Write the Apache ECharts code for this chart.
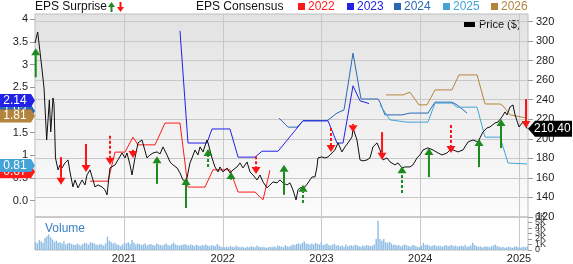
<!DOCTYPE html>
<html><head><meta charset="utf-8">
<script src="https://cdn.jsdelivr.net/npm/echarts@6/dist/echarts.min.js"></script>
<style>html,body{margin:0;padding:0;background:#fff}#c{width:573px;height:264px}</style>
</head><body><div id="c"></div>
<script>
const FONT = '"Liberation Sans", Arial, Helvetica, sans-serif';

// x axis: decimal years
const xMin = 2020.0987, xMax = 2025.0911;
const yearTicks = [2021, 2022, 2023, 2024, 2025];
const epsTicks = [0, 0.5, 1, 1.5, 2, 2.5, 3, 3.5, 4];
const priceTicks = [120, 140, 160, 180, 200, 220, 240, 260, 280, 300, 320];
const volTicks = [0, 1, 2, 3, 4, 5, 6];

// Price ($) [year, price]
const price = [[2020.099,298.0],[2020.126,309.3],[2020.142,310.3],[2020.167,273.5],[2020.190,252.0],[2020.217,198.8],[2020.244,239.7],[2020.258,207.0],[2020.281,241.8],[2020.291,235.6],[2020.306,180.4],[2020.332,168.2],[2020.352,173.3],[2020.372,170.2],[2020.402,175.3],[2020.433,178.4],[2020.453,166.1],[2020.483,150.8],[2020.504,157.9],[2020.534,149.8],[2020.575,157.9],[2020.605,152.8],[2020.625,163.0],[2020.656,168.2],[2020.686,157.9],[2020.706,150.8],[2020.737,152.8],[2020.777,150.8],[2020.808,147.7],[2020.828,142.6],[2020.858,170.2],[2020.909,173.3],[2020.939,178.4],[2020.980,185.5],[2021.010,180.4],[2021.030,185.5],[2021.061,173.3],[2021.081,163.0],[2021.111,180.4],[2021.142,195.8],[2021.182,198.8],[2021.202,196.8],[2021.233,180.4],[2021.263,183.5],[2021.294,185.5],[2021.334,186.6],[2021.365,184.5],[2021.395,191.7],[2021.435,183.5],[2021.466,176.3],[2021.496,173.3],[2021.537,170.2],[2021.567,165.1],[2021.597,157.9],[2021.618,156.9],[2021.638,160.0],[2021.668,175.3],[2021.689,180.4],[2021.719,188.6],[2021.749,183.5],[2021.770,191.7],[2021.800,186.6],[2021.840,198.8],[2021.851,195.8],[2021.891,180.4],[2021.921,171.2],[2021.952,166.1],[2021.972,171.2],[2022.003,166.1],[2022.043,170.2],[2022.073,165.1],[2022.104,168.2],[2022.144,171.2],[2022.175,175.3],[2022.205,170.2],[2022.246,176.3],[2022.276,166.1],[2022.306,163.0],[2022.347,157.9],[2022.377,163.0],[2022.408,155.9],[2022.448,149.8],[2022.478,152.8],[2022.509,155.9],[2022.549,154.9],[2022.580,157.9],[2022.610,154.9],[2022.651,152.8],[2022.681,154.9],[2022.711,147.7],[2022.742,137.5],[2022.762,147.7],[2022.782,149.8],[2022.833,150.8],[2022.863,154.9],[2022.904,161.0],[2022.934,161.0],[2022.954,171.2],[2022.964,180.4],[2023.005,181.5],[2023.035,180.4],[2023.066,181.5],[2023.106,185.5],[2023.136,188.6],[2023.167,195.8],[2023.207,186.6],[2023.238,191.7],[2023.268,195.8],[2023.309,201.9],[2023.319,211.1],[2023.359,198.8],[2023.390,178.4],[2023.420,177.4],[2023.461,178.4],[2023.491,180.4],[2023.521,191.7],[2023.562,195.8],[2023.592,188.6],[2023.623,178.4],[2023.663,180.4],[2023.694,176.3],[2023.744,173.3],[2023.775,175.3],[2023.815,170.2],[2023.845,171.2],[2023.896,171.2],[2023.926,173.3],[2023.967,180.4],[2023.997,183.5],[2024.028,188.6],[2024.078,190.7],[2024.129,188.6],[2024.180,185.5],[2024.220,183.5],[2024.271,185.5],[2024.301,188.6],[2024.332,188.6],[2024.382,186.6],[2024.433,188.6],[2024.484,196.8],[2024.534,198.8],[2024.585,196.8],[2024.635,207.0],[2024.676,211.1],[2024.706,212.1],[2024.757,216.2],[2024.787,217.2],[2024.828,222.4],[2024.858,227.5],[2024.879,224.4],[2024.909,232.6],[2024.939,234.6],[2024.960,224.4],[2024.980,222.4],[2025.000,212.1],[2025.031,216.2],[2025.061,217.2],[2025.081,210.4]];
const lastPrice = 210.40;

// EPS consensus [year, eps]
const cons2022 = [[2020.656,0.43],[2020.838,0.43],[2020.909,1.07],[2021.010,1.07],[2021.091,1.40],[2021.142,1.23],[2021.314,1.23],[2021.415,1.71],[2021.567,1.71],[2021.648,0.30],[2021.820,0.30],[2021.901,0.68],[2022.073,0.68],[2022.155,0.19],[2022.327,0.19],[2022.408,0.02],[2022.478,0.67]];
const cons2023 = [[2021.567,3.74],[2021.648,1.27],[2021.840,1.27],[2021.891,1.58],[2022.073,1.58],[2022.155,0.96],[2022.327,0.96],[2022.398,1.09],[2022.560,1.09],[2022.813,1.76],[2023.066,1.76],[2023.157,1.27],[2023.218,1.27],[2023.319,2.53],[2023.390,2.20],[2023.481,2.14]];
const cons2024 = [[2022.570,1.82],[2022.661,1.62],[2022.752,1.62],[2022.813,1.76],[2023.056,1.76],[2023.157,1.93],[2023.228,2.00],[2023.319,3.25],[2023.400,2.24],[2023.572,2.24],[2023.592,2.17],[2023.643,1.89],[2023.815,1.89],[2023.896,1.93],[2024.078,1.93],[2024.149,2.17],[2024.321,2.17],[2024.372,2.11],[2024.474,1.93]];
const cons2025 = [[2023.592,2.11],[2023.694,1.78],[2023.866,1.73],[2024.078,1.73],[2024.149,2.15],[2024.321,2.15],[2024.372,2.06],[2024.575,2.06],[2024.656,1.40],[2024.808,1.40],[2024.889,0.83],[2025.081,0.81]];
const cons2026 = [[2023.653,2.33],[2023.825,2.33],[2023.896,2.39],[2023.987,2.11],[2024.068,2.11],[2024.149,2.44],[2024.321,2.44],[2024.392,2.77],[2024.575,2.77],[2024.656,2.13],[2024.808,2.13],[2024.838,2.09],[2024.909,1.89],[2025.081,1.82]];
const consLast = {'2022': '0.67', '2023': '2.14', '2024': '1.93', '2025': '0.81', '2026': '1.81'};

// EPS surprise arrows [year, consensus, actual, dashed(1/0)]
const surprises = [[2020.106,2.72,3.36,0],[2020.362,0.96,0.35,0],[2020.615,1.25,0.63,0],[2020.858,1.43,0.79,1],[2021.091,1.12,0.94,0],[2021.334,0.37,0.98,0],[2021.628,-0.16,0.50,0],[2021.851,0.74,1.14,1],[2022.084,0.46,0.63,1],[2022.337,0.98,0.59,1],[2022.620,0.13,0.79,0],[2022.813,-0.05,0.35,1],[2023.096,1.60,1.07,1],[2023.319,1.69,1.51,1],[2023.613,1.51,0.90,0],[2023.815,0.17,0.76,1],[2024.088,0.52,1.16,0],[2024.311,1.67,1.05,1],[2024.595,0.74,1.36,0],[2024.818,1.16,1.80,0],[2025.071,2.24,1.60,0]];

// Weekly volume (K), first week starting at volStart
const volStart = 2020.104;
const volume = [
1.4,1.2,1.8,1.6,1.3,2.2,2.5,2.8,2.3,1.9,
1.5,1.7,1.3,1.4,1.2,1.6,1.0,1.2,1.3,1.1,
1.0,0.9,1.2,1.0,0.8,1.1,1.3,1.2,1.0,1.4,
1.3,1.2,1.0,0.9,1.1,1.0,0.8,1.2,2.4,1.7,
1.4,1.2,1.3,1.0,0.9,0.7,1.0,1.3,1.2,1.4,
1.1,1.8,1.3,1.0,1.2,1.1,0.9,1.0,1.2,0.8,
1.0,1.1,0.9,0.8,1.2,1.0,0.9,0.8,1.0,1.2,
0.9,0.8,1.1,1.3,1.0,0.9,0.8,0.9,1.0,1.1,
0.9,0.8,1.0,0.9,0.7,1.0,0.8,0.7,0.9,0.8,
1.0,0.8,0.7,0.9,0.8,0.7,1.1,0.8,0.6,0.5,
0.5,0.6,0.5,0.7,0.6,0.5,0.8,0.6,0.5,0.6,
0.5,0.4,0.6,0.5,0.7,0.6,0.5,0.8,0.6,0.5,
0.6,0.5,0.4,0.5,0.6,0.5,0.7,0.5,0.8,0.7,
0.6,0.5,0.9,0.7,0.6,0.8,1.0,0.9,1.1,1.2,
1.0,1.3,1.6,1.2,1.1,1.0,1.2,1.0,1.3,1.1,
1.0,1.4,0.9,1.0,1.2,0.9,0.8,1.0,1.1,0.8,
0.9,0.7,0.8,0.6,1.0,0.7,0.8,0.9,0.7,1.0,
0.8,0.7,0.6,0.8,0.7,0.9,0.8,0.7,0.8,1.0,
2.0,5.3,2.0,1.7,2.0,1.4,1.3,1.5,1.2,0.9,
1.0,0.8,0.9,0.7,0.8,1.0,0.9,0.7,0.6,0.8,
0.9,0.7,0.6,0.5,0.8,1.3,0.9,1.0,0.8,0.7,
0.8,0.9,0.7,0.8,0.7,0.6,0.8,0.9,0.7,0.8,
0.9,0.7,0.8,0.6,0.7,0.8,0.7,0.9,0.6,0.7,
0.8,1.3,0.9,0.7,0.6,0.7,0.5,0.6,0.7,0.6,
0.5,0.7,0.8,1.0,0.7,0.6,0.5,0.6,0.4,0.5,
0.6,0.5,0.4,0.6,0.7,0.5,0.4,0.5,0.6,0.5,0.7];
const WEEK = 7 / 365.25;
const volData = volume.map((v, i) => [volStart + i * WEEK, v]);

const COLORS = {'2022': '#ff1a1a', '2023': '#2222e6', '2024': '#2b68b3', '2025': '#44a4d8', '2026': '#b5843c'};
const GREEN = '#1c8a1c', RED = '#ff1414';

const chart = echarts.init(document.getElementById('c'), null, {renderer: 'canvas', width: 573, height: 264});

function consSeries(name, data) {
  return {type: 'line', name: name, xAxisIndex: 0, yAxisIndex: 0, data: data, symbol: 'none', z: 3,
    lineStyle: {color: COLORS[name], width: 1}, itemStyle: {color: COLORS[name]}};
}

const option = {
  animation: false,
  backgroundColor: '#fff',
  textStyle: {fontFamily: FONT},
  grid: [
    {left: 35, right: 45, top: 14, height: 203, show: true,
     backgroundColor: {type: 'linear', x: 0, y: 0, x2: 0, y2: 1, colorStops: [{offset: 0, color: '#e2e2e2'}, {offset: 1, color: '#fcfcfc'}]},
     borderColor: '#bdbdbd', borderWidth: 1},
    {left: 35, right: 45, top: 217, height: 37, show: true, backgroundColor: '#fff', borderColor: '#bdbdbd', borderWidth: 1}
  ],
  xAxis: [
    {type: 'value', gridIndex: 0, min: xMin, max: xMax, axisLine: {show: false},
     axisTick: {show: false, customValues: yearTicks}, axisLabel: {show: false, customValues: yearTicks},
     splitLine: {show: true, lineStyle: {color: '#c8c8c8', width: 1}}},
    {type: 'value', gridIndex: 1, min: xMin, max: xMax, axisLine: {show: false},
     axisTick: {show: false, customValues: yearTicks},
     axisLabel: {customValues: yearTicks, formatter: v => String(Math.round(v)), color: '#222', fontSize: 11, fontFamily: FONT, margin: 3},
     splitLine: {show: true, lineStyle: {color: '#c8c8c8', width: 1}}}
  ],
  yAxis: [
    {type: 'value', gridIndex: 0, position: 'left', min: -0.359, max: 4.112,
     axisLine: {show: false}, splitLine: {show: false},
     axisTick: {show: true, customValues: epsTicks, length: 5, lineStyle: {color: '#999'}},
     axisLabel: {customValues: epsTicks, formatter: v => v === 0 ? '0.0' : String(v), color: '#222', fontSize: 11, fontFamily: FONT, margin: 7}},
    {type: 'value', gridIndex: 0, position: 'right', min: 120, max: 327.67,
     axisLine: {show: false},
     axisTick: {show: true, customValues: priceTicks, length: 5, lineStyle: {color: '#999'}},
     axisLabel: {customValues: priceTicks, color: '#222', fontSize: 11, fontFamily: FONT, margin: 8, hideOverlap: false},
     splitLine: {show: true, lineStyle: {color: '#c8c8c8', width: 1}}},
    {type: 'value', gridIndex: 1, position: 'right', min: 0, max: 6,
     axisLine: {show: false}, splitLine: {show: false},
     axisTick: {show: true, customValues: volTicks, length: 4, lineStyle: {color: '#999'}},
     axisLabel: {show: false, customValues: volTicks}}
  ],
  series: [
    {type: 'bar', name: 'Volume', xAxisIndex: 1, yAxisIndex: 2, data: volData, barWidth: 1.4,
     itemStyle: {color: '#8dbbe4'}, z: 2},
    consSeries('2022', cons2022),
    consSeries('2024', cons2024),
    consSeries('2023', cons2023),
    consSeries('2025', cons2025),
    consSeries('2026', cons2026),
    {type: 'line', name: 'Price ($)', xAxisIndex: 0, yAxisIndex: 1, data: price, symbol: 'none', z: 4,
     lineStyle: {color: '#111', width: 1}},
    {type: 'custom', name: 'EPS Surprise', xAxisIndex: 0, yAxisIndex: 0, data: surprises, z: 6,
     encode: {x: 0, y: [1, 2]},
     renderItem: function (params, api) {
       const x = api.value(0), a = api.value(1), b = api.value(2), dashed = api.value(3);
       const p0 = api.coord([x, a]), p1 = api.coord([x, b]);
       const up = b > a;
       const color = up ? GREEN : RED;
       const dir = up ? -1 : 1;
       const headH = 7, headW = 4.5;
       const baseY = p1[1] - dir * headH;
       return {type: 'group', children: [
         {type: 'line', shape: {x1: p0[0], y1: p0[1], x2: p0[0], y2: baseY},
          style: {stroke: color, lineWidth: 2, lineDash: dashed ? [3, 2] : null}},
         {type: 'polygon', shape: {points: [[p1[0], p1[1]], [p1[0] - headW, baseY], [p1[0] + headW, baseY]]},
          style: {fill: color}}
       ]};
     }}
  ],
  graphic: []
};
chart.setOption(option);

// Legend and tags
const g = [];
g.push({type: 'text', x: 35, y: 7, style: {text: 'EPS Surprise', fill: '#111', font: '12px ' + FONT, textVerticalAlign: 'middle'}});
g.push({type: 'line', shape: {x1: 111.5, y1: 7, x2: 111.5, y2: 12}, style: {stroke: GREEN, lineWidth: 2}});
g.push({type: 'polygon', shape: {points: [[111.5, 2], [108, 7], [115, 7]]}, style: {fill: GREEN}});
g.push({type: 'line', shape: {x1: 120.5, y1: 2, x2: 120.5, y2: 7}, style: {stroke: RED, lineWidth: 2}});
g.push({type: 'polygon', shape: {points: [[120.5, 12], [117, 7], [124, 7]]}, style: {fill: RED}});
g.push({type: 'text', x: 196, y: 7, style: {text: 'EPS Consensus', fill: '#111', font: '12px ' + FONT, textVerticalAlign: 'middle'}});
const legYears = ['2022', '2023', '2024', '2025', '2026'];
const legX = [298, 347, 394, 443, 491];
legYears.forEach((yr, i) => {
  g.push({type: 'rect', shape: {x: legX[i], y: 3, width: 7, height: 7}, style: {fill: COLORS[yr]}});
  g.push({type: 'text', x: legX[i] + 10, y: 7, style: {text: yr, fill: COLORS[yr], font: '12px ' + FONT, textVerticalAlign: 'middle'}});
});
g.push({type: 'rect', shape: {x: 464, y: 22, width: 11, height: 5}, style: {fill: '#000'}});
g.push({type: 'text', x: 479, y: 25, style: {text: 'Price ($)', fill: '#111', font: '11px ' + FONT, textVerticalAlign: 'middle'}});
g.push({type: 'text', x: 45, y: 229, style: {text: 'Volume', fill: '#3a7fc2', font: '12px ' + FONT, textVerticalAlign: 'middle'}});

// volume axis labels (crowded, as in the original)
volTicks.forEach(v => {
  const vy = chart.convertToPixel({yAxisIndex: 2}, v);
  g.push({type: 'text', x: 535, y: vy, z: 5, style: {text: v === 0 ? '0' : v + 'K', fill: '#333', font: '9px ' + FONT, textVerticalAlign: 'middle'}});
});

// last-value tags for each consensus year (small pixel nudges as in original)
const tagNudge = {'2022': 1.5, '2024': -2, '2023': -3, '2025': 1.5, '2026': -2.5};
['2022', '2024', '2023', '2025', '2026'].forEach(yr => {
  const yc = chart.convertToPixel({yAxisIndex: 0}, parseFloat(consLast[yr])) + tagNudge[yr];
  g.push({type: 'polygon', z: 10, shape: {points: [[0, yc - 6.5], [31, yc - 6.5], [35, yc], [31, yc + 6.5], [0, yc + 6.5]]}, style: {fill: COLORS[yr]}});
  g.push({type: 'text', z: 10, x: 15, y: yc, style: {text: consLast[yr], fill: '#fff', font: '12px ' + FONT, textAlign: 'center', textVerticalAlign: 'middle'}});
});
const py = chart.convertToPixel({yAxisIndex: 1}, lastPrice);
g.push({type: 'polygon', z: 10, shape: {points: [[528, py], [535, py - 8], [572, py - 8], [572, py + 8], [535, py + 8]]}, style: {fill: '#000'}});
g.push({type: 'text', z: 11, x: 534, y: py, style: {text: lastPrice.toFixed(2), fill: '#fff', font: '12px ' + FONT, textVerticalAlign: 'middle'}});
chart.setOption({graphic: g});
</script></body></html>
